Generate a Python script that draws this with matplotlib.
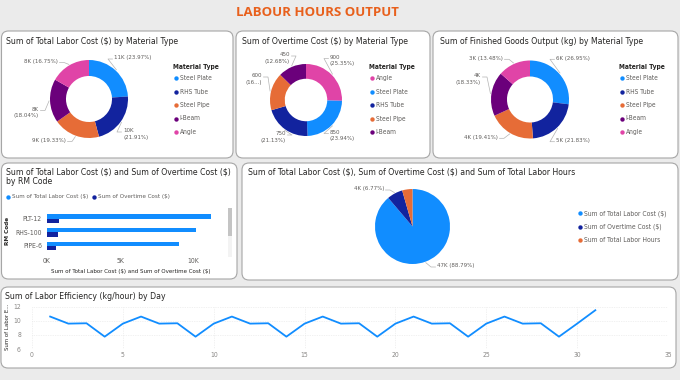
import matplotlib
matplotlib.use("Agg")
import matplotlib.pyplot as plt
from matplotlib.patches import FancyBboxPatch, Rectangle
import numpy as np

# ---------------- data ----------------
material_types = ["Steel Plate", "RHS Tube", "Steel Pipe", "I-Beam", "Angle"]
total_labor_cost = [11160, 10200, 9000, 8400, 7800]
labor_cost_labels = ["11K (23.97%)", "10K\n(21.91%)", "9K (19.33%)", "8K\n(18.04%)", "8K (16.75%)"]

overtime_materials = ["Angle", "Steel Plate", "RHS Tube", "Steel Pipe", "I-Beam"]
overtime_cost = [900, 850, 750, 600, 450]
overtime_labels = ["900\n(25.35%)", "850\n(23.94%)", "750\n(21.13%)", "600\n(16...)", "450\n(12.68%)"]

output_materials = ["Steel Plate", "RHS Tube", "Steel Pipe", "I-Beam", "Angle"]
finished_output = [6000, 4860, 4320, 4080, 3000]
output_labels = ["6K (26.95%)", "5K (21.83%)", "4K (19.41%)", "4K\n(18.33%)", "3K (13.48%)"]

rm_codes = ["PLT-12", "RHS-100", "PIPE-6"]
rm_total_labor = [11160, 10200, 9000]
rm_overtime = [850, 750, 600]
bar_ticks = [0, 5000, 10000]
bar_tick_labels = ["0K", "5K", "10K"]

summary_series = ["Sum of Total Labor Cost ($)", "Sum of Overtime Cost ($)", "Sum of Total Labor Hours"]
summary_values = [46560, 3550, 2328]
summary_labels = ["47K (88.79%)", "4K (6.77%)", ""]

days = list(range(1, 32))
labor_efficiency = [10.6, 9.6, 9.65, 7.75, 9.6,
                    10.6, 9.6, 9.65, 7.75, 9.6,
                    10.6, 9.6, 9.65, 7.75, 9.6,
                    10.6, 9.6, 9.65, 7.75, 9.6,
                    10.6, 9.6, 9.65, 7.75, 9.6,
                    10.6, 9.6, 9.65, 7.75, 9.6,
                    11.5]

# ---------------- style ----------------
COLORS = {"Steel Plate": "#118DFF", "RHS Tube": "#12239E", "Steel Pipe": "#E66C37",
          "I-Beam": "#6B007B", "Angle": "#E044A7"}
SUM_COLORS = ["#118DFF", "#12239E", "#E66C37"]
FONT = ["Liberation Sans Narrow", "DejaVu Sans"]
TITLE_C = "#252423"
GRAY_T = "#605E5C"
LEAD_C = "#b3b3b3"
plt.rcParams["font.family"] = FONT
plt.rcParams["font.stretch"] = "condensed"
plt.rcParams["text.parse_math"] = False

W, H = 680, 380
fig = plt.figure(figsize=(6.8, 3.8), dpi=100)
fig.patch.set_facecolor("#ebebeb")


def px_axes(x0, y0, x1, y1, z=1):
    return fig.add_axes([x0 / W, 1 - y1 / H, (x1 - x0) / W, (y1 - y0) / H], zorder=z)


bg = px_axes(0, 0, W, H, z=0)
bg.set_xlim(0, W); bg.set_ylim(H, 0); bg.axis("off")
ov = px_axes(0, 0, W, H, z=10)
ov.set_xlim(0, W); ov.set_ylim(H, 0); ov.axis("off"); ov.patch.set_alpha(0)

panels = [(1.5, 31, 233, 158), (236, 31, 430, 158), (433, 31, 678, 158),
          (1.5, 163, 237, 279), (242, 163, 678, 280), (1, 287, 676, 368)]
for x0, y0, x1, y1 in panels:
    bg.add_patch(FancyBboxPatch((x0, y0), x1 - x0, y1 - y0,
                                boxstyle="round,pad=0,rounding_size=7",
                                fc="white", ec="#a6a6a6", lw=0.8))

# main title
ov.text(317, 12, "LABOUR HOURS OUTPUT", ha="center", va="center",
        fontsize=9.5, fontweight="bold", color="#E8601C",
        family=["Open Sans", "DejaVu Sans"], fontstretch="normal")

# panel titles
ptitles = [(6, 41, "Sum of Total Labor Cost ($) by Material Type"),
           (242, 41, "Sum of Overtime Cost ($) by Material Type"),
           (440, 41, "Sum of Finished Goods Output (kg) by Material Type"),
           (6, 172.5, "Sum of Total Labor Cost ($) and Sum of Overtime Cost ($)"),
           (6, 181.5, "by RM Code"),
           (248, 171.5, "Sum of Total Labor Cost ($), Sum of Overtime Cost ($) and Sum of Total Labor Hours"),
           (5, 296.5, "Sum of Labor Efficiency (kg/hour) by Day")]
for x, y, t in ptitles:
    ov.text(x, y, t, ha="left", va="center", fontsize=6.2, color=TITLE_C)


def donut(cx, cy, r, values, colors, labels, places, width_frac=0.41):
    s = r + 2
    ax = px_axes(cx - s, cy - s, cx + s, cy + s, z=2)
    wedges, _ = ax.pie(values, colors=colors, startangle=90, counterclock=False,
                       radius=r, wedgeprops=dict(width=r * width_frac, edgecolor="none"))
    ax.set_xlim(-s, s); ax.set_ylim(-s, s)
    ax.set_aspect("equal")
    ax.axis("off")
    for w, lab, (tx, ty, ha) in zip(wedges, labels, places):
        if not lab:
            continue
        mid = np.deg2rad((w.theta1 + w.theta2) / 2)
        ex, ey = cx + (r + 1) * np.cos(mid), cy - (r + 1) * np.sin(mid)
        sgn = 1 if ha == "left" else -1
        ov.plot([ex, tx - sgn * 6, tx - sgn * 1.5], [ey, ty, ty], color=LEAD_C, lw=0.5)
        ov.text(tx, ty - 3.6, lab, ha=ha, va="top", ma=ha, fontsize=4.4, color=GRAY_T,
                linespacing=1.35)


def legend(x_marker, y0, title, names, colors, dy=13.5, fs=4.8):
    if title:
        ov.text(x_marker - 3, y0 - 10.5, title, ha="left", va="center", fontsize=4.8,
                fontweight="bold", color=TITLE_C)
    for i, (n, c) in enumerate(zip(names, colors)):
        y = y0 + i * dy
        ov.scatter([x_marker], [y], s=10, color=c, lw=0)
        ov.text(x_marker + 3.5, y, n, ha="left", va="center", fontsize=fs, color=GRAY_T)


# donut 1
donut(89, 99, 39, total_labor_cost, [COLORS[m] for m in material_types], labor_cost_labels,
      [(114, 59, "left"), (123, 132, "left"), (66, 141.5, "right"),
       (39, 110.5, "right"), (58, 62.5, "right")])
legend(176, 78, "Material Type", material_types, [COLORS[m] for m in material_types])

# donut 2
donut(306, 100, 36, overtime_cost, [COLORS[m] for m in overtime_materials], overtime_labels,
      [(330, 58.5, "left"), (330, 133.5, "left"), (286, 135, "right"),
       (262, 77, "right"), (290, 56, "right")])
legend(372, 78, "Material Type", overtime_materials, [COLORS[m] for m in overtime_materials])

# donut 3
donut(530, 99.5, 39, finished_output, [COLORS[m] for m in output_materials], output_labels,
      [(556, 59.3, "left"), (556, 141.7, "left"), (498, 138.3, "right"),
       (481, 77, "right"), (503, 59.3, "right")])
legend(622, 78, "Material Type", output_materials, [COLORS[m] for m in output_materials])

# summary pie
donut(412.5, 226.5, 37.5, summary_values, SUM_COLORS, summary_labels,
      [(437, 267, "left"), (384, 190, "right"), (0, 0, "left")], width_frac=1.0)
legend(580, 213.3, None, summary_series, SUM_COLORS, dy=13.4, fs=4.9)

# bar chart
bx = px_axes(46.7, 210, 215, 254, z=2)
yy = np.arange(len(rm_codes))
bx.barh(yy - 0.16, rm_total_labor, height=0.32, color="#118DFF")
bx.barh(yy + 0.16, rm_overtime, height=0.32, color="#12239E")
bx.set_ylim(2.6, -0.65)
bx.set_xlim(0, 11460)
bx.set_yticks(yy)
bx.set_yticklabels(rm_codes)
bx.set_xticks(bar_ticks)
bx.set_xticklabels(bar_tick_labels)
bx.tick_params(length=0, labelsize=4.9, labelcolor=GRAY_T)
bx.tick_params(axis="y", pad=3.4)
bx.tick_params(axis="x", pad=3.2)
for sp in bx.spines.values():
    sp.set_visible(False)
bx.patch.set_alpha(0)
ov.text(131, 271, "Sum of Total Labor Cost ($) and Sum of Overtime Cost ($)", ha="center",
        va="center", fontsize=4.4, color=TITLE_C)
ov.text(7.5, 231, "RM Code", rotation=90, ha="center", va="center", fontsize=4.6,
        color=TITLE_C, fontweight="bold")
# bar legend
ov.scatter([8.3], [196.7], s=10, color="#118DFF", lw=0)
ov.text(11.5, 196.7, "Sum of Total Labor Cost ($)", ha="left", va="center", fontsize=4.5, color=GRAY_T)
ov.scatter([94.3], [196.7], s=10, color="#12239E", lw=0)
ov.text(97.5, 196.7, "Sum of Overtime Cost ($)", ha="left", va="center", fontsize=4.5, color=GRAY_T)
# scrollbar
bg.add_patch(Rectangle((227.7, 208), 4.6, 49, fc="#f3f3f3", ec="none", zorder=3))
bg.add_patch(Rectangle((227.7, 208), 4.6, 28, fc="#c4c4c4", ec="none", zorder=4))

# line chart
lx = px_axes(32, 306.7, 668, 349, z=2)
lx.plot(days, labor_efficiency, color="#118DFF", lw=1.3)
lx.set_xlim(0, 35)
lx.set_ylim(6, 12)
lx.set_xticks(range(0, 36, 5))
lx.set_yticks([6, 8, 10, 12])
lx.grid(True, color="#e4e4e4", lw=0.5, ls=(0, (1, 1.5)))
lx.tick_params(length=0, labelsize=4.9, labelcolor="#8a8886")
lx.tick_params(axis="y", pad=8)
lx.tick_params(axis="x", pad=2.5)
for sp in lx.spines.values():
    sp.set_visible(False)
lx.patch.set_alpha(0)
ov.text(8, 327, "Sum of Labor E...", rotation=90, ha="center", va="center", fontsize=4.3,
        color=TITLE_C)

fig.savefig("out.png", dpi=100, facecolor=fig.get_facecolor())
